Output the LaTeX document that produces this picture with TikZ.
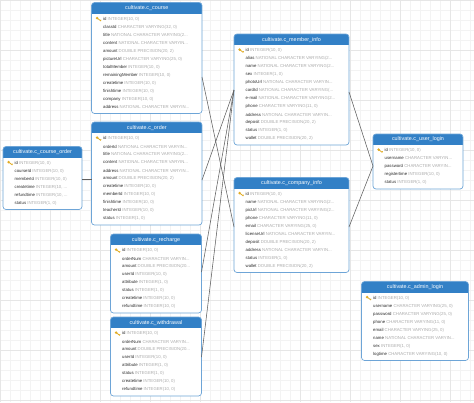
\documentclass[tikz,border=0pt]{standalone}
\usepackage{fontspec}
\setmainfont{Liberation Sans}
\usetikzlibrary{calc}

\definecolor{hdrblue}{RGB}{50,128,198}
\definecolor{boxline}{RGB}{110,165,215}
\definecolor{typegray}{RGB}{170,170,170}
\definecolor{namegray}{RGB}{45,45,45}
\definecolor{gridminor}{RGB}{243,243,243}
\definecolor{gridmajor}{RGB}{230,230,230}
\definecolor{keygold}{RGB}{225,172,35}
\definecolor{linkgray}{RGB}{95,95,95}

% one table: name, x, y, width, rows, title, columns
\newcommand\dbtable[7]{%
  \node[tblbox, minimum width=#4, minimum height=15+8*#5, anchor=north west] (#1) at (#2,#3) {};
  \begin{scope}
    \clip[rounded corners=3] (#1.north west) rectangle (#1.south east);
    \fill[hdrblue] (#1.north west) rectangle ($(#1.north east)+(0,11)$);
    \clip (#1.north west) rectangle ($(#1.south east)+(-2,0)$);
    \foreach \cname/\ctype [count=\i] in {#7}
      \node[colname] (#1-\i) at ($(#1.north west)+(11.5,8.5+8*\i)$) {\cname\ \textcolor{typegray}{\ctype}};
  \end{scope}
  \draw[tblline] (#1.north west) rectangle (#1.south east);
  \node[hdrtext] (#1-title) at ($(#1.north)+(0,5.6)$) {#6};
  % key of the first column
  \fill[keygold] ($(#1.north west)+(5.6,15.6)$) circle (1.4);
  \draw[keygold, line width=0.8] ($(#1.north west)+(5.6,15.6)$) -- ++(3.4,2.6) -- ++(0.6,-0.9);
}

\begin{document}
\begin{tikzpicture}[x=1pt, y=-1pt,
    tblbox/.style={fill=white, inner sep=0, outer sep=0},
    tblline/.style={draw=boxline, line width=0.7, rounded corners=3},
    hdrtext/.style={text=white, inner sep=0, font=\fontsize{5.4}{6}\selectfont},
    colname/.style={anchor=west, inner sep=0, text=namegray, font=\fontsize{4.3}{5}\selectfont},
    link/.style={draw=linkgray, line width=0.55}
  ]
  \useasboundingbox (0,0) rectangle (474,402);
  \fill[white] (0,0) rectangle (474,402);
  \foreach \g in {0,10,...,470} \draw[gridminor, line width=0.4] (\g,0) -- (\g,402);
  \foreach \g in {0,10,...,400} \draw[gridminor, line width=0.4] (0,\g) -- (474,\g);
  \foreach \g in {0,50,...,450} \draw[gridmajor, line width=0.4] (\g,0) -- (\g,402);
  \foreach \g in {0,50,...,400} \draw[gridmajor, line width=0.4] (0,\g) -- (474,\g);

  \dbtable{course}{91.5}{2.5}{110.5}{12}{cultivate.c\_course}{%
    id/{INTEGER(10, 0)}, classId/{CHARACTER VARYING(32, 0)},
    title/{NATIONAL CHARACTER VARYING(2...}, content/{NATIONAL CHARACTER VARYIN...},
    amount/{DOUBLE PRECISION(20, 2)}, pictureUrl/{CHARACTER VARYING(25, 0)},
    totalMember/{INTEGER(10, 0)}, remainingMember/{INTEGER(10, 0)},
    createtime/{INTEGER(10, 0)}, finishtime/{INTEGER(10, 0)},
    company/{INTEGER(10, 0)}, address/{NATIONAL CHARACTER VARYIN...}}

  \dbtable{order}{91.5}{122}{110.5}{11}{cultivate.c\_order}{%
    id/{INTEGER(10, 0)}, orderId/{NATIONAL CHARACTER VARYIN...},
    title/{NATIONAL CHARACTER VARYING(2...}, content/{NATIONAL CHARACTER VARYIN...},
    address/{NATIONAL CHARACTER VARYIN...}, amount/{DOUBLE PRECISION(20, 2)},
    createtime/{INTEGER(10, 0)}, memberId/{INTEGER(10, 0)},
    finishtime/{INTEGER(10, 0)}, teacherId/{INTEGER(10, 0)},
    status/{INTEGER(1, 0)}}

  \dbtable{corder}{3}{146.5}{79}{6}{cultivate.c\_course\_order}{%
    id/{INTEGER(10, 0)}, courseId/{INTEGER(10, 0)},
    memberId/{INTEGER(10, 0)}, createtime/{INTEGER(10, ...},
    refundtime/{INTEGER(10, ...}, status/{INTEGER(1, 0)}}

  \dbtable{recharge}{110.5}{234}{91}{8}{cultivate.c\_recharge}{%
    id/{INTEGER(10, 0)}, orderNum/{CHARACTER VARYIN...},
    amount/{DOUBLE PRECISION(20...}, userId/{INTEGER(10, 0)},
    attribute/{INTEGER(1, 0)}, status/{INTEGER(1, 0)},
    createtime/{INTEGER(10, 0)}, refundtime/{INTEGER(10, 0)}}

  \dbtable{withdrawal}{110.5}{317}{91}{8}{cultivate.c\_withdrawal}{%
    id/{INTEGER(10, 0)}, orderNum/{CHARACTER VARYIN...},
    amount/{DOUBLE PRECISION(20...}, userId/{INTEGER(10, 0)},
    attribute/{INTEGER(1, 0)}, status/{INTEGER(1, 0)},
    createtime/{INTEGER(10, 0)}, refundtime/{INTEGER(10, 0)}}

  \dbtable{member}{234}{34}{115}{12}{cultivate.c\_member\_info}{%
    id/{INTEGER(10, 0)}, alias/{NATIONAL CHARACTER VARYING(2...},
    name/{NATIONAL CHARACTER VARYING(2...}, sex/{INTEGER(1, 0)},
    photoUrl/{NATIONAL CHARACTER VARYIN...}, cardId/{NATIONAL CHARACTER VARYING(...},
    e-mail/{NATIONAL CHARACTER VARYING(2...}, phone/{CHARACTER VARYING(11, 0)},
    address/{NATIONAL CHARACTER VARYIN...}, deposit/{DOUBLE PRECISION(20, 2)},
    status/{INTEGER(1, 0)}, wallet/{DOUBLE PRECISION(20, 2)}}

  \dbtable{company}{234}{177.5}{115}{10}{cultivate.c\_company\_info}{%
    id/{INTEGER(10, 0)}, name/{NATIONAL CHARACTER VARYING(2...},
    picUrl/{NATIONAL CHARACTER VARYING(2...}, phone/{CHARACTER VARYING(11, 0)},
    email/{CHARACTER VARYING(25, 0)}, licenseUrl/{NATIONAL CHARACTER VARYIN...},
    deposit/{DOUBLE PRECISION(20, 2)}, address/{NATIONAL CHARACTER VARYIN...},
    status/{INTEGER(1, 0)}, wallet/{DOUBLE PRECISION(20, 2)}}

  \dbtable{userlogin}{373}{134}{90}{5}{cultivate.c\_user\_login}{%
    id/{INTEGER(10, 0)}, username/{CHARACTER VARYIN...},
    password/{CHARACTER VARYIN...}, registertime/{INTEGER(10, 0)},
    status/{INTEGER(1, 0)}}

  \dbtable{admin}{361.5}{281.5}{107}{8}{cultivate.c\_admin\_login}{%
    id/{INTEGER(10, 0)}, username/{CHARACTER VARYING(25, 0)},
    password/{CHARACTER VARYING(25, 0)}, phone/{CHARACTER VARYING(11, 0)},
    email/{CHARACTER VARYING(25, 0)}, name/{NATIONAL CHARACTER VARYIN...},
    sex/{INTEGER(1, 0)}, logtime/{CHARACTER VARYING(10, 0)}}

  % references
  \draw[link] (corder.east |- 0,179) -- (order.west |- 0,179);
  \draw[link] (course.east |- 0,77) -- (company.west |- 0,227);
  \draw[link] (order.east |- 0,180) -- (member.west |- 0,90);
  \draw[link] (recharge.east |- 0,272) -- (member.west |- 0,90);
  \draw[link] (withdrawal.east |- 0,357) -- (member.west |- 0,90);
  \draw[link] (member.east |- 0,92) -- (userlogin.west |- 0,166);
  \draw[link] (company.east |- 0,227) -- (userlogin.west |- 0,166);
\end{tikzpicture}
\end{document}
